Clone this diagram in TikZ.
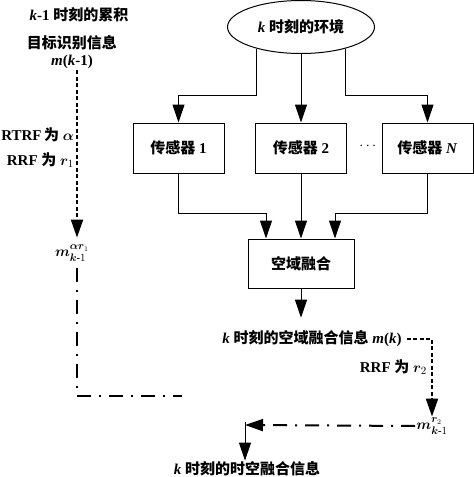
\documentclass[tikz,border=0pt]{standalone}
\usepackage{amsmath}
\usepackage{bm}
\usepackage{fontspec}
\setmainfont{Liberation Serif}
\newfontfamily\cjk{Noto Sans CJK SC}
\usetikzlibrary{arrows.meta,shapes.geometric}
\newcommand{\vk}{\textbf{\textit{k}}}
\newcommand{\vm}{\textbf{\textit{m}}}
\begin{document}
\begin{tikzpicture}[x=1pt,y=-1pt,
  every node/.style={font=\fontsize{15}{17}\selectfont\bfseries},
  box/.style={draw, line width=1pt, minimum width=91pt, minimum height=50pt, inner sep=0pt},
  tip/.style={-{Triangle[length=18pt,width=12pt]}},
  arr/.style={line width=1pt, tip},
  dotarr/.style={line width=2pt, dash pattern=on 4pt off 2.5pt, tip},
  dashdot/.style={line width=2pt, dash pattern=on 14pt off 8pt on 2pt off 8pt},
  lbl/.style={inner sep=1pt}]
\useasboundingbox (0,0) rectangle (474,477);

% top
\node[draw, ellipse, line width=1pt, minimum width=147pt, minimum height=53pt, inner sep=0pt] (env) at (301,27) {\vk\ {\cjk 时刻的环境}};
\node[box] (s1) at (178.5,148) {{\cjk 传感器} 1};
\node[box] (s2) at (301,148) {{\cjk 传感器} 2};
\node[box] (sN) at (427.5,148) {{\cjk 传感器} \textit{N}};
\node (dots) at (369,146) {$\cdots$};
\node[box, minimum width=106pt, minimum height=49pt] (fus) at (301,263.5) {\cjk 空域融合};
\node[lbl] (t1) at (312,339) {\vk\ {\cjk 时刻的空域融合信息} \vm(\vk)};
\node[lbl, anchor=east] (r2) at (428,367) {RRF {\cjk 为} $\bm{r}_2$};
\node[lbl] (mr2) at (432,426) {$\bm{m}^{\bm{r}_2}_{\bm{k}\text{-}1}$};
\node[lbl] (out) at (247,469) {\vk\ {\cjk 时刻的时空融合信息}};

% left
\node[lbl] (l1) at (79,15) {\vk-1 {\cjk 时刻的累积}};
\node[lbl] (l2) at (72,43) {\cjk 目标识别信息};
\node[lbl] (l3) at (72,62) {\vm(\vk-1)};
\node[inner sep=0pt, anchor=east] (ra) at (74,135) {RTRF\,{\cjk 为} $\bm{\alpha}$};
\node[inner sep=0pt, anchor=east] (rb) at (74,160) {RRF {\cjk 为} $\bm{r}_1$};
\node[lbl] (ma) at (72,253) {$\bm{m}^{\bm{\alpha}\bm{r}_1}_{\bm{k}\text{-}1}$};
\coordinate (dl) at (182,396);
\coordinate (c) at (245,425);

% connectors
\draw[arr] (env.-154) -- (env.-154 |- 0,95) -| (s1.north);
\draw[arr] (env.south) -- (s2.north);
\draw[arr] (env.-26) -- (env.-26 |- 0,95) -| (sN.north);
\draw[arr] (s1.south) -- (s1.south |- 0,213) -| ([xshift=-35pt]fus.north);
\draw[arr] (s2.south) -- (fus.north);
\draw[arr] (sN.south) -- (sN.south |- 0,213) -| ([xshift=34pt]fus.north);
\draw[arr, shorten >=12pt] (fus.south) -- (fus.south |- t1.north);
\draw[dotarr] ([xshift=4pt]t1.east) -| (mr2.north);
\draw[dashdot, tip] (mr2.west) -- (c);
\draw[arr] ([yshift=3pt]c) -- (c |- out.north);
\draw[dotarr] (l3.south -| 77,0) -- ([yshift=6pt]ma.north -| 77,0);
\draw[dashdot] ([yshift=-6pt]ma.south -| 77,0) |- (dl);
\end{tikzpicture}
\end{document}
